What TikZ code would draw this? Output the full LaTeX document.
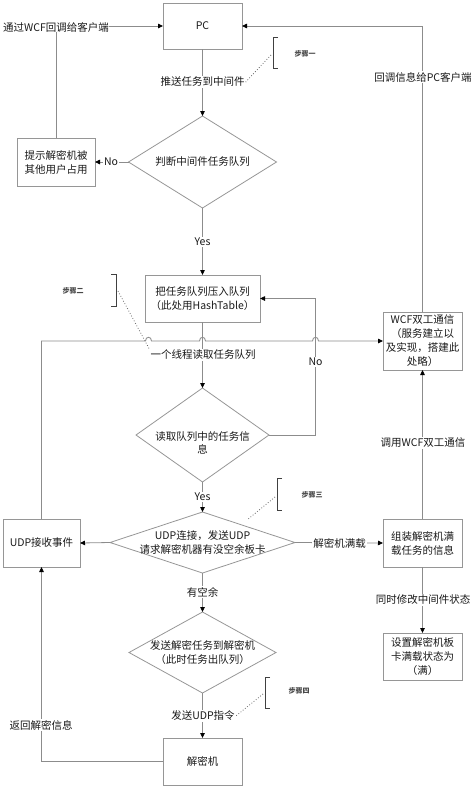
\documentclass[tikz,border=0pt]{standalone}
\usepackage{fontspec}
\setmainfont{Noto Sans CJK SC}
\usetikzlibrary{arrows.meta,shapes.geometric}
\definecolor{lncol}{RGB}{140,140,140}
\definecolor{bxcol}{RGB}{150,150,150}
\definecolor{txcol}{RGB}{25,25,25}
\begin{document}
\begin{tikzpicture}[x=1pt,y=-1pt,
  box/.style={draw=bxcol,line width=0.8pt,rectangle,inner sep=0pt,outer sep=0pt,
    align=center,font=\fontsize{10.5}{14}\selectfont,text=txcol},
  dia/.style={draw=bxcol,line width=0.8pt,diamond,inner sep=0pt,outer sep=0pt},
  dtext/.style={align=center,font=\fontsize{10.5}{13.5}\selectfont,text=txcol,inner sep=0pt},
  conn/.style={draw=lncol,line width=0.8pt,-{Triangle[length=5pt,width=4.5pt,color=black]}},
  plain/.style={draw=lncol,line width=0.8pt},
  lbl/.style={fill=white,inner sep=1pt,font=\fontsize{10.5}{13}\selectfont,text=txcol},
  steptxt/.style={inner sep=0pt,font=\fontsize{7}{8}\selectfont\bfseries,text=txcol!80},
  brk/.style={draw=black!75,line width=1pt},
  dots/.style={draw=black!60,line width=0.8pt,dotted}
]
\useasboundingbox (0,0) rectangle (474,788);

% boxes
\node[box,minimum width=79,minimum height=46] (pc) at (202.5,26) {PC};
\node[box,minimum width=78,minimum height=48] (tip) at (56,162) {提示解密机被\\其他用户占用};
\node[dia,minimum width=148,minimum height=92] (d1) at (202.5,162) {};
\node[dtext] (d1t) at (d1.center) {判断中间件任务队列};
\node[box,minimum width=115,minimum height=47] (q) at (202.5,298.5) {把任务队列压入队列\\（此处用HashTable）};
\node[dia,minimum width=133,minimum height=94] (d2) at (202.5,435) {};
\node[dtext] (d2t) at (202.5,443) {读取队列中的任务信\\息};
\node[box,minimum width=79,minimum height=58] (wcf) at (422.5,341) {WCF双工通信\\（服务建立以\\及实现，搭建此\\处略）};
\node[dia,minimum width=185,minimum height=61] (d3) at (202.5,542.5) {};
\node[dtext] (d3t) at (d3.center) {UDP连接，发送UDP\\请求解密机器有没空余板卡};
\node[box,minimum width=77,minimum height=48] (udp) at (41.5,543) {UDP接收事件};
\node[box,minimum width=79,minimum height=48] (asm) at (422.5,543) {组装解密机满\\载任务的信息};
\node[dia,minimum width=147,minimum height=81] (d4) at (202.5,652.5) {};
\node[dtext] (d4t) at (d4.center) {发送解密任务到解密机\\（此时任务出队列）};
\node[box,minimum width=79,minimum height=47] (set) at (422.5,656.5) {设置解密机板\\卡满载状态为\\（满）};
\node[box,minimum width=79,minimum height=47] (dec) at (202.5,761.5) {解密机};

% connectors
\draw[conn] (pc.south) -- (d1.north);
\draw[conn] (d1.west) -- (tip.east);
\draw[conn] (d1.south) -- (q.north);
\draw[conn] (tip.north) |- (pc.west);
\draw[conn] (wcf.north) |- (pc.east);
\draw[conn] (q.south) -- (d2.north);
\coordinate (nox) at (315.5,0);
\draw[conn] (d2.east) -| (nox |- q.east) -- (q.east);
\draw[conn] (d2.south) -- (d3.north);
\draw[conn] (d3.west) -- (udp.east);
\draw[conn] (d3.east) -- (asm.west);
\draw[conn] (d3.south) -- (d4.north);
\draw[conn] (d4.south) -- (dec.north);
\draw[conn] (dec.west) -| (udp.south);
\draw[conn] (asm.north) -- (wcf.south);
\draw[conn] (asm.south) -- (set.north);
\coordinate (corner) at (udp.north |- wcf.west);
\draw[conn] (udp.north) -- (corner) -- (145.5,341)
  .. controls (145.5,336) and (151.5,336) .. (151.5,341) -- (199.5,341)
  .. controls (199.5,336) and (205.5,336) .. (205.5,341) -- (312.5,341)
  .. controls (312.5,336) and (318.5,336) .. (318.5,341) -- (wcf.west);

% labels on connectors
\node[lbl] (l1) at (202.5,82) {推送任务到中间件};
\node[lbl] (l2) at (111,162) {No};
\node[lbl] (l3) at (202.5,242) {Yes};
\node[lbl,inner sep=0pt] (l4) at (56,27) {通过WCF回调给客户端};
\node[lbl] (l5) at (423,77) {回调信息给PC客户端};
\node[lbl] (l6) at (203,355) {一个线程读取任务队列};
\node[lbl] (l7) at (315.5,362) {No};
\node[lbl] (l8) at (202.5,497) {Yes};
\node[lbl] (l9) at (339.5,543) {解密机满载};
\node[lbl] (l10) at (202.5,592) {有空余};
\node[lbl] (l11) at (203,716) {发送UDP指令};
\node[lbl] (l12) at (41,725) {返回解密信息};
\node[lbl] (l13) at (423,443) {调用WCF双工通信};
\node[lbl] (l14) at (423,600) {同时修改中间件状态};

% step annotations
\draw[brk] (278,37) -- (273,37) -- (273,68) -- (278,68);
\node[steptxt] (s1) at (305,54) {步骤一};
\draw[dots] (271,55) -- (l1.east);

\draw[brk] (111,274) -- (116,274) -- (116,306) -- (111,306);
\node[steptxt] (s2) at (73,291) {步骤二};
\draw[dots] (118,291) -- (l6.north west);

\draw[brk] (282,478) -- (277,478) -- (277,510) -- (282,510);
\node[steptxt] (s3) at (312,495) {步骤三};
\draw[dots] (275,497) -- (247,520);

\draw[brk] (270,677) -- (265,677) -- (265,708) -- (270,708);
\node[steptxt] (s4) at (299,691) {步骤四};
\draw[dots] (263,694) -- (l11.east);
\end{tikzpicture}
\end{document}
